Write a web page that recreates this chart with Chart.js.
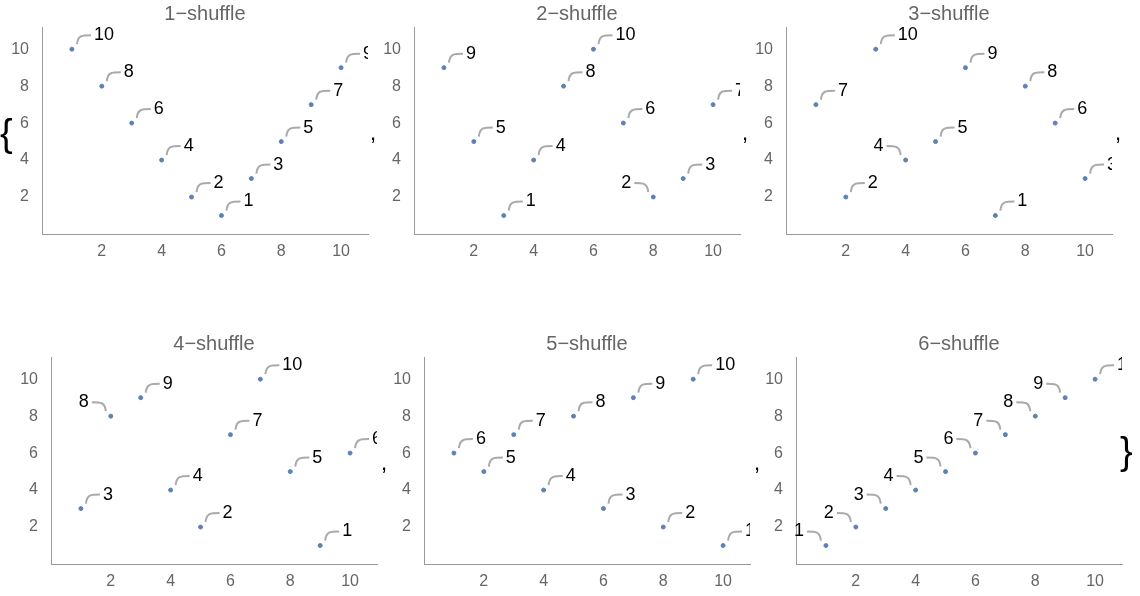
<!DOCTYPE html>
<html><head><meta charset="utf-8">
<script src="https://cdn.jsdelivr.net/npm/chart.js@4/dist/chart.umd.min.js"></script>
<style>
body{margin:0;background:#fff;width:1140px;height:596px;position:relative;overflow:hidden;font-family:"Liberation Sans",Arial,sans-serif}
.box{position:absolute;width:373px;height:264px}
.t{position:absolute;color:#666;font-size:20px;transform:translateX(-50%)}
.p{position:absolute;font-size:22px;color:#000}
</style></head><body>
<script>
// x positions 1..10 and the shuffled order for each panel
const xs = [1,2,3,4,5,6,7,8,9,10];
const titles = ['1\u2212shuffle','2\u2212shuffle','3\u2212shuffle','4\u2212shuffle','5\u2212shuffle','6\u2212shuffle'];
const shuffle1 = [10,8,6,4,2,1,3,5,7,9];
const shuffle2 = [9,5,1,4,8,10,6,2,3,7];
const shuffle3 = [7,2,10,4,5,9,1,8,6,3];
const shuffle4 = [3,8,9,4,2,7,10,5,1,6];
const shuffle5 = [6,5,7,4,8,3,9,2,10,1];
const shuffle6 = [1,2,3,4,5,6,7,8,9,10];
const allShuffles = [shuffle1,shuffle2,shuffle3,shuffle4,shuffle5,shuffle6];
// labels (by value) that sit on the left of their point
const leftLabels = [[],[2],[4],[8],[],[1,2,3,4,5,6,7,8,9]];
const yTicks = [2,4,6,8,10];

const boxes = [[0,0],[372,0],[744,0],[9,330],[382,330],[754,330]];

const labelPlugin = {
    id: 'pointLabels',
    afterDatasetsDraw(chart) {
        const ctx = chart.ctx, a = chart.chartArea;
        const meta = chart.getDatasetMeta(0);
        const left = chart.options.plugins.pointLabels.left;
        ctx.save();
        ctx.beginPath();
        ctx.rect(a.left - 40, 0, a.right - a.left + 40, a.bottom);
        ctx.clip();
        meta.data.forEach((pt, i) => {
            const v = chart.data.datasets[0].data[i];
            const d = left.includes(v.y) ? -1 : 1;
            const x = pt.x, y = pt.y;
            ctx.strokeStyle = '#aaa';
            ctx.lineWidth = 2;
            ctx.beginPath();
            ctx.moveTo(x + d*5, y - 5);
            ctx.bezierCurveTo(x + d*6, y - 14, x + d*10, y - 14, x + d*19, y - 14);
            ctx.stroke();
            ctx.fillStyle = '#000';
            ctx.font = '18px "Liberation Sans", Arial, sans-serif';
            ctx.textBaseline = 'middle';
            ctx.textAlign = d > 0 ? 'left' : 'right';
            ctx.fillText(String(v.y), x + d*22, y - 14);
        });
        ctx.restore();
    }
};

allShuffles.forEach((vals, k) => {
    const div = document.createElement('div');
    div.className = 'box';
    div.style.left = boxes[k][0] + 'px';
    div.style.top = boxes[k][1] + 'px';
    const cv = document.createElement('canvas');
    div.appendChild(cv);
    document.body.appendChild(div);

    const t = document.createElement('div');
    t.className = 't';
    t.textContent = titles[k];
    t.style.left = (boxes[k][0] + 205) + 'px';
    t.style.top = (boxes[k][1] + 2) + 'px';
    document.body.appendChild(t);

    const tickCol = '#666';
    new Chart(cv, {
        type: 'scatter',
        data: {
            datasets: [{
                data: xs.map((x, i) => ({ x: x, y: vals[i] })),
                backgroundColor: '#5e81b5',
                borderColor: '#5e81b5',
                pointRadius: 2
            }]
        },
        plugins: [labelPlugin],
        options: {
            responsive: true,
            maintainAspectRatio: false,
            animation: false,
            layout: { padding: { top: 27, right: 0 } },
            plugins: {
                legend: { display: false },
                tooltip: { enabled: false },
                pointLabels: { left: leftLabels[k] }
            },
            scales: {
                x: {
                    min: 0, max: 10.9,
                    afterFit: s => { s.height = 30; },
                    afterBuildTicks: s => { s.ticks = yTicks.map(v => ({ value: v })); },
                    grid: { display: false, tickLength: 5, color: tickCol },
                    border: { color: '#999' },
                    ticks: { color: tickCol, font: { size: 16 } }
                },
                y: {
                    min: 0, max: 11.2,
                    afterFit: s => { s.width = 42; },
                    afterBuildTicks: s => { s.ticks = yTicks.map(v => ({ value: v })); },
                    grid: { display: false, tickLength: 5, color: tickCol },
                    border: { color: '#999' },
                    ticks: { color: tickCol, font: { size: 16 }, padding: 8 }
                }
            }
        }
    });
});

// list punctuation around the panels
[['{',0,112,38],[',',370,120,22],[',',742,120,22],[',',1115,120,22],[',',381,450,22],[',',754,450,22],['}',1120,430,38]].forEach(p => {
    const s = document.createElement('div');
    s.className = 'p';
    s.textContent = p[0];
    s.style.left = p[1] + 'px';
    s.style.top = p[2] + 'px';
    s.style.fontSize = p[3] + 'px';
    document.body.appendChild(s);
});
</script>
</body></html>
